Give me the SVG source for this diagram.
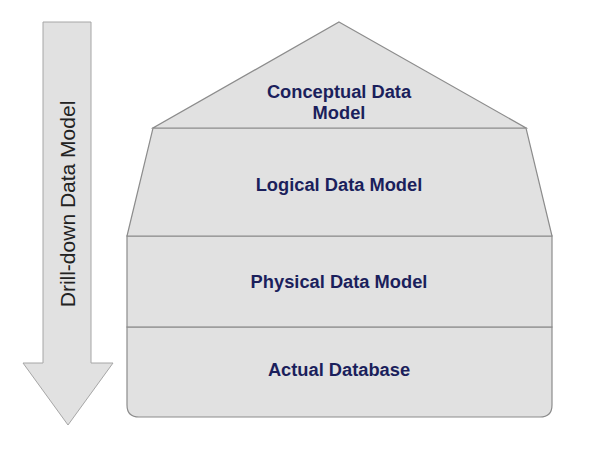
<svg xmlns="http://www.w3.org/2000/svg" width="590" height="453" viewBox="0 0 590 453">
<style>
.layer{fill:#e1e1e1;stroke:#8c8c8c;stroke-width:1.2}
.lbl{font-family:"Liberation Sans",Arial,sans-serif;font-weight:bold;font-size:18.3px;fill:#1b1f5c;text-anchor:middle}
.arr{fill:#e1e1e1;stroke:#a6a6a6;stroke-width:1}
.arrlbl{font-family:"Liberation Sans",Arial,sans-serif;font-size:21px;fill:#222;text-anchor:middle}
</style>
<rect width="590" height="453" fill="#fff"/>
<g id="drill-down-arrow">
<polygon class="arr" points="43,22 91,22 91,363 113,363 68,425 23,363 43,363"/>
<text class="arrlbl" transform="translate(75,204) rotate(-90)">Drill-down Data Model</text>
</g>
<g id="actual-database">
<path class="layer" d="M127,327 H552 V405 Q552,417 540,417 H139 Q127,417 127,405 Z"/>
<text class="lbl" x="339" y="376">Actual Database</text>
</g>
<g id="physical-data-model">
<rect class="layer" x="127" y="236" width="425" height="91"/>
<text class="lbl" x="339" y="288">Physical Data Model</text>
</g>
<g id="logical-data-model">
<polygon class="layer" points="153,128 526,128 552,236 127,236"/>
<text class="lbl" x="339" y="191">Logical Data Model</text>
</g>
<g id="conceptual-data-model">
<polygon class="layer" points="339,22 526,128 153,128"/>
<text class="lbl" x="339" y="98">Conceptual Data</text>
<text class="lbl" x="339" y="119">Model</text>
</g>
<g id="connectors"></g>
</svg>
